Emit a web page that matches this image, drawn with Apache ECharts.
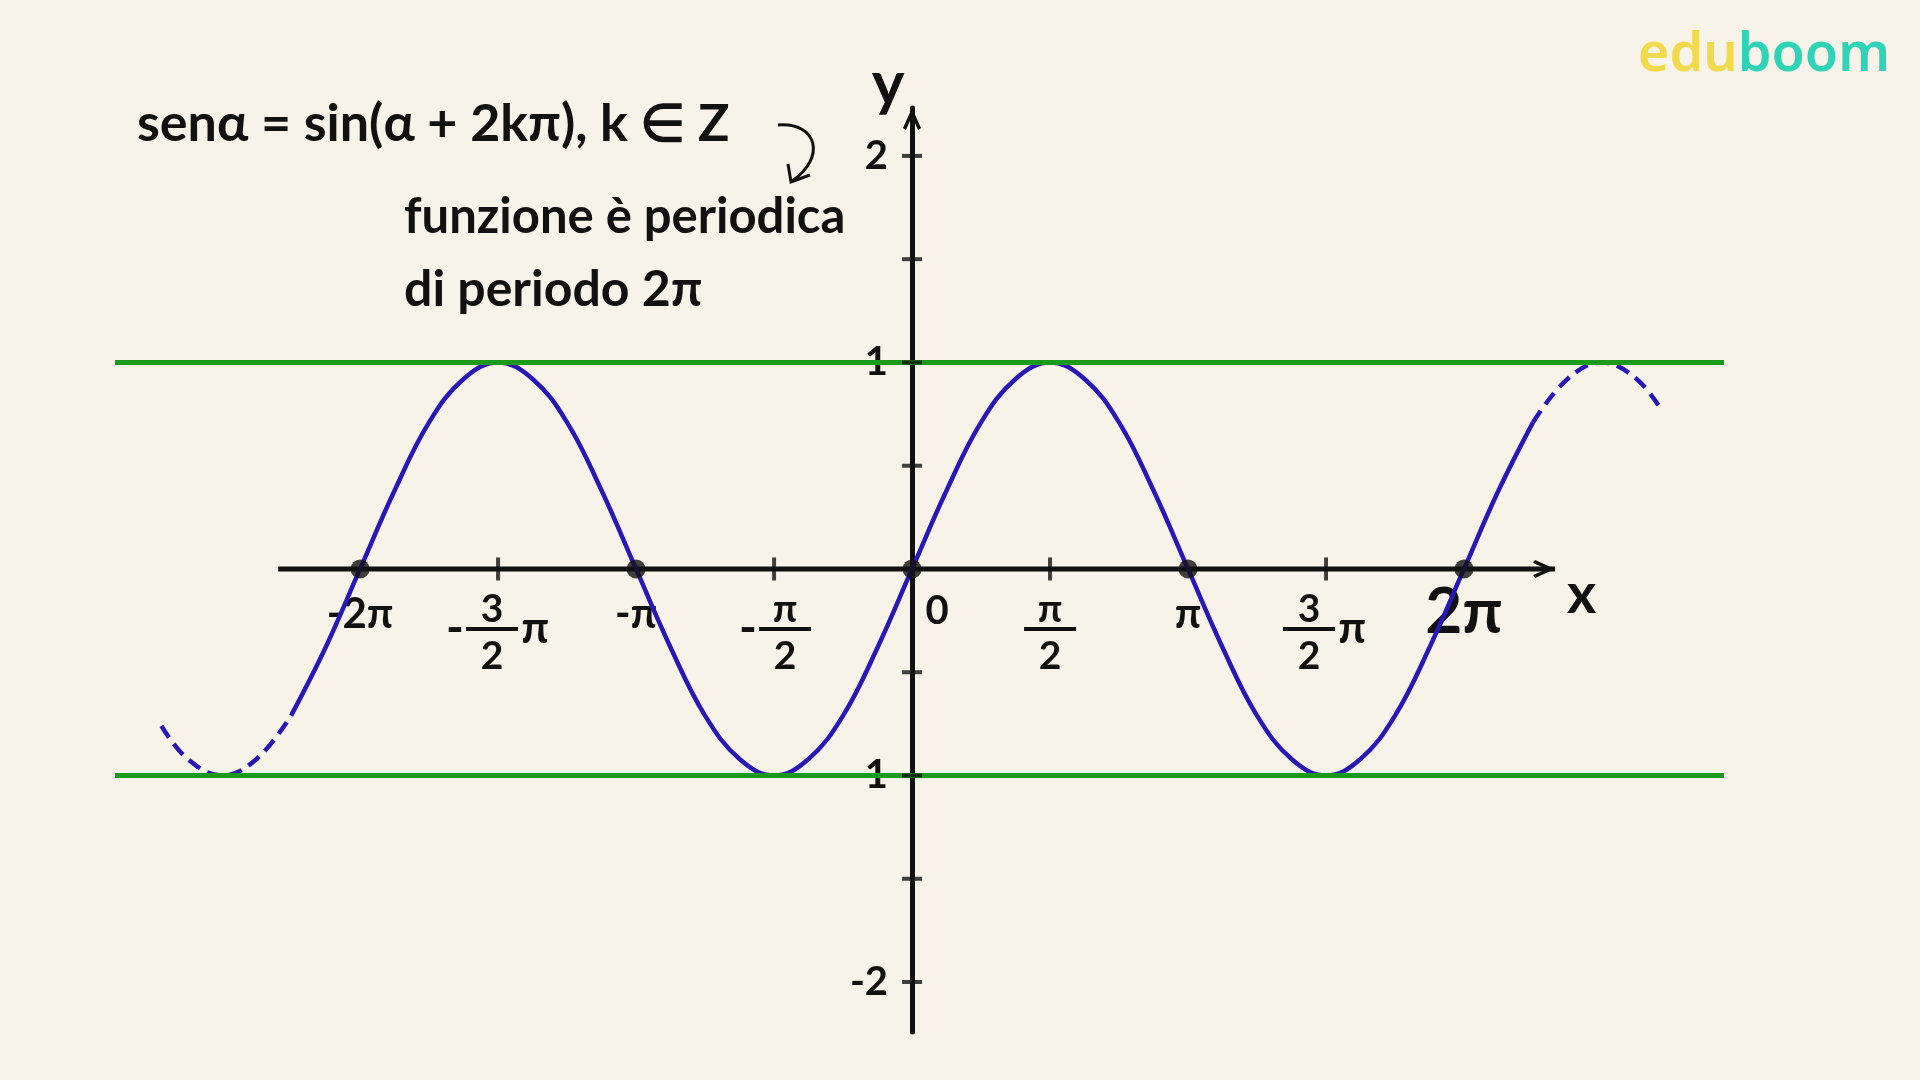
<!DOCTYPE html>
<html>
<head>
<meta charset="utf-8">
<script src="https://cdn.jsdelivr.net/npm/echarts@6/dist/echarts.min.js"></script>
<style>
html,body{margin:0;padding:0;background:#f8f3e8;}
#c{width:1920px;height:1080px;}
</style>
</head>
<body>
<div id="c"></div>
<script>
// ---- data (x in units of π) ----
const xMin = -2.888, xMax = 2.942;        // full drawing width (green lines)
const yMin = -2.242, yMax = 2.232;
const xAxisLine = [-2.297, 2.33];          // visible x axis from left end to arrow tip

const xLabelValues = [-2, -1.5, -1, -0.5, 0, 0.5, 1, 1.5, 2];
const xLabelTexts  = ['-2π', '-3/2π', '-π', '-π/2', '0', 'π/2', 'π', '3/2π', '2π'];
const yLabelValues = [-2, -1, 1, 2];
const xTickValues  = [-1.5, -0.5, 0.5, 1.5];
const yTickValues  = [-2, -1.5, -1, -0.5, 0.5, 1, 1.5, 2];
const zerosX       = [-2, -1, 0, 1, 2];

const curveX = [-2.25,-2.125,-2,-1.875,-1.75,-1.625,-1.5,-1.375,-1.25,-1.125,-1,-0.875,-0.75,-0.625,-0.5,-0.375,-0.25,-0.125,0,0.125,0.25,0.375,0.5,0.625,0.75,0.875,1,1.125,1.25,1.375,1.5,1.625,1.75,1.875,2,2.125,2.25];
const curveY = [-0.71,-0.38,0,0.38,0.71,0.92,1,0.92,0.71,0.38,0,-0.38,-0.71,-0.92,-1,-0.92,-0.71,-0.38,0,0.38,0.71,0.92,1,0.92,0.71,0.38,0,-0.38,-0.71,-0.92,-1,-0.92,-0.71,-0.38,0,0.38,0.71];
const dashLeftX  = [-2.72,-2.625,-2.5,-2.375,-2.25];
const dashLeftY  = [-0.76,-0.92,-1,-0.92,-0.71];
const dashRightX = [2.25,2.375,2.5,2.625,2.72];
const dashRightY = [0.71,0.92,1,0.92,0.76];

const boundY = [1, -1];

// ---- helpers ----
const zip = (xs, ys) => xs.map((x, i) => [x, ys[i]]);
function richLabel(t) {
  if (t === '2π') return '{big|2π}';
  if (t === '0') return '{zero|0}';
  if (t.indexOf('/') < 0) return '{t|' + t + '}';
  const sign = t[0] === '-';
  const body = sign ? t.slice(1) : t;
  const parts = body.split('/');
  const num = parts[0], den = parts[1][0], suffix = parts[1].slice(1);
  const l1 = (sign ? '{e1| }' : '') + '{num|' + num + '}' + (suffix ? '{s1| }' : '');
  const l2 = (sign ? '{ml|-}' : '') + '{bar| }' + (suffix ? '{pr|' + suffix + '}' : '');
  const l3 = (sign ? '{e3| }' : '') + '{den|' + den + '}' + (suffix ? '{s3| }' : '');
  return l1 + '\n' + l2 + '\n' + l3;
}
const FONT = 'Lato';
const INK = '#111111';
const chevron = 'path://M0,20 L9,0 L18,20 L15,22 L9,8 L3,22 Z';

const GRID = {left: 115, right: 196, top: 108, bottom: 48};
const X0 = 912, Y0 = 569; // pixel of origin (used only for axis offsets)

const chart = echarts.init(document.getElementById('c'), null, {renderer: 'canvas'});
chart.setOption({
  backgroundColor: '#f8f3e8',
  animation: false,
  textStyle: {fontFamily: FONT},
  grid: Object.assign({outerBoundsMode: 'none', containLabel: false}, GRID),
  xAxis: {
    type: 'value', min: xMin, max: xMax,
    position: 'bottom', offset: -(1080 - GRID.bottom - Y0),
    axisLine: {show: false, onZero: false},
    axisTick: {show: false},
    splitLine: {show: false},
    axisLabel: {
      customValues: xLabelValues,
      margin: 25,
      color: INK,
      formatter: v => richLabel(xLabelTexts[xLabelValues.indexOf(v)]),
      rich: {
        t:   {fontSize: 42, fontWeight: 'bold', color: INK, fontFamily: FONT, lineHeight: 40, align: 'center'},
        big: {fontSize: 64, fontWeight: 'bold', color: INK, fontFamily: FONT, lineHeight: 36, align: 'center'},
        zero:{fontSize: 40, fontWeight: 'bold', color: INK, fontFamily: FONT, lineHeight: 34, align: 'center', padding: [0, 0, 0, 50]},
        num: {fontSize: 39, fontWeight: 'bold', color: INK, fontFamily: FONT, lineHeight: 30, width: 52, align: 'center'},
        den: {fontSize: 39, fontWeight: 'bold', color: INK, fontFamily: FONT, lineHeight: 44, width: 52, align: 'center'},
        bar: {width: 52, height: 4, lineHeight: 10, backgroundColor: INK, align: 'center', fontSize: 10},
        ml:  {fontSize: 48, fontWeight: 'bold', color: INK, fontFamily: FONT, lineHeight: 10, width: 22, align: 'center'},
        pr:  {fontSize: 44, fontWeight: 'bold', color: INK, fontFamily: FONT, lineHeight: 10, width: 34, align: 'center'},
        e1:  {width: 22, lineHeight: 30, align: 'center', fontSize: 10},
        e3:  {width: 22, lineHeight: 44, align: 'center', fontSize: 10},
        s1:  {width: 34, lineHeight: 30, align: 'center', fontSize: 10},
        s3:  {width: 34, lineHeight: 44, align: 'center', fontSize: 10}
      }
    }
  },
  yAxis: {
    type: 'value', min: yMin, max: yMax,
    position: 'left', offset: -(X0 - GRID.left),
    name: 'y', nameLocation: 'end', nameGap: -8,
    nameTextStyle: {fontSize: 62, fontWeight: 'bold', color: INK, fontFamily: FONT, padding: [0, 48, 0, 0]},
    axisLine: {show: true, onZero: false, lineStyle: {color: INK, width: 5}, symbol: ['none', chevron], symbolSize: [18, 22], symbolOffset: [0, -11]},
    axisTick: {show: false},
    splitLine: {show: false},
    axisLabel: {
      customValues: yLabelValues,
      margin: 24,
      fontSize: 40, fontWeight: 'bold', color: INK, fontFamily: FONT
    }
  },
  series: [
    {type: 'line', name: 'x', z: 2, symbol: 'none', silent: true,
     data: [[xAxisLine[0], 0], {value: [xAxisLine[1], 0], symbol: chevron, symbolSize: [18, 22], symbolRotate: -90, symbolOffset: [-11, 0]}],
     lineStyle: {color: INK, width: 5}, itemStyle: {color: INK},
     endLabel: {show: true, formatter: '{a}', distance: 12, offset: [0, 26], fontSize: 56, fontWeight: 'bold', color: INK, fontFamily: FONT}},
    {type: 'line', data: zip(curveX, curveY), smooth: 0.4, symbol: 'none', z: 3, silent: true,
     lineStyle: {color: '#2818b6', width: 4.5}},
    {type: 'line', data: zip(dashLeftX, dashLeftY), smooth: 0.4, symbol: 'none', z: 3, silent: true,
     lineStyle: {color: '#2818b6', width: 4.5, type: [14, 8]}},
    {type: 'line', data: zip(dashRightX, dashRightY), smooth: 0.4, symbol: 'none', z: 3, silent: true,
     lineStyle: {color: '#2818b6', width: 4.5, type: [14, 8]}},
    {type: 'line', data: [[xMin, boundY[0]], [xMax, boundY[0]]], symbol: 'none', z: 4, silent: true,
     lineStyle: {color: '#1a9a1a', width: 5}},
    {type: 'line', data: [[xMin, boundY[1]], [xMax, boundY[1]]], symbol: 'none', z: 4, silent: true,
     lineStyle: {color: '#1a9a1a', width: 5}},
    {type: 'scatter', data: xTickValues.map(v => [v, 0]), symbol: 'rect', symbolSize: [4, 23], z: 5,
     itemStyle: {color: INK}, silent: true},
    {type: 'scatter', data: yTickValues.map(v => [0, v]), symbol: 'rect', symbolSize: [20, 4], z: 5,
     itemStyle: {color: INK}, silent: true},
    {type: 'scatter', data: zerosX.map(v => [v, 0]), symbol: 'circle', symbolSize: 19, z: 6,
     itemStyle: {color: INK}, silent: true}
  ],
  graphic: [
    {type: 'text', left: 137, top: 98, z: 10,
     style: {text: 'senα = sin(α + 2kπ), k ∈ Z', font: 'bold 52px Lato', fill: INK}},
    {type: 'text', left: 404, top: 193, z: 10,
     style: {text: 'funzione è periodica', font: 'bold 49px Lato', fill: INK}},
    {type: 'text', left: 404, top: 265, z: 10,
     style: {text: 'di periodo 2π', font: 'bold 50px Lato', fill: INK}},
    {type: 'bezierCurve', z: 10,
     shape: {x1: 778, y1: 125, cpx1: 818, cpy1: 122, cpx2: 826, cpy2: 158, x2: 792, y2: 181},
     style: {stroke: INK, lineWidth: 3, fill: null}},
    {type: 'polyline', z: 10,
     shape: {points: [[788, 164], [791, 182], [810, 175]]},
     style: {stroke: INK, lineWidth: 3, fill: null}},
    {type: 'text', right: 30, top: 29, z: 10,
     style: {text: '{e|edu}{b|boom}', font: '600 54px "Noto Sans"',
       rich: {e: {fill: '#f3d94c', font: '600 54px "Noto Sans"'}, b: {fill: '#2fd3b6', font: '600 54px "Noto Sans"'}}}}
  ]
});
</script>
</body>
</html>
